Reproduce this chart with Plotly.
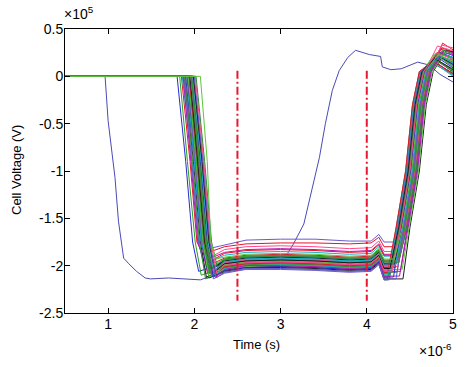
import plotly.graph_objects as go

# ---------------- data (time in 1e-6 s, voltage in 1e5 V) ----------------
x_ticks = [1, 2, 3, 4, 5]
x_tick_labels = ["1", "2", "3", "4", "5"]
y_ticks = [-2.5, -2.0, -1.5, -1.0, -0.5, 0.0, 0.5]
y_tick_labels = ["-2.5", "-2", "-1.5", "-1", "-0.5", "0", "0.5"]

# outlier cell (early drop, early recovery)
outlier_t = [0.5, 0.965, 1.00, 1.04, 1.08, 1.12, 1.18, 1.24, 1.33, 1.43, 1.49, 1.70, 1.90, 2.07, 2.22,
             2.35, 2.60, 2.90, 3.04, 3.15, 3.27, 3.37, 3.45, 3.52, 3.60, 3.68, 3.78, 3.87, 3.93, 4.03,
             4.16, 4.18, 4.28, 4.40, 4.59, 4.72, 4.85, 5.00]
outlier_v = [0.0, 0.0, -0.47, -0.78, -1.07, -1.53, -1.92, -1.98, -2.06, -2.13, -2.14, -2.13, -2.14, -2.15, -2.10,
             -2.02, -1.97, -1.96, -1.93, -1.77, -1.56, -1.18, -0.86, -0.50, -0.15, 0.06, 0.20, 0.275, 0.26, 0.23,
             0.21, 0.10, 0.07, 0.08, 0.15, 0.12, 0.02, -0.06]

# main group of cells: key times / voltages for each cell
drop_start = [1.80, 1.83, 1.85, 1.86, 1.87, 1.88, 1.88, 1.89, 1.89, 1.90,
              1.90, 1.91, 1.91, 1.91, 1.92, 1.92, 1.92, 1.93, 1.93, 1.93,
              1.94, 1.94, 1.94, 1.95, 1.95, 1.95, 1.96, 1.96, 1.96, 1.97,
              1.97, 1.97, 1.98, 1.98, 1.99, 1.99, 2.00, 2.01, 2.02, 2.07]
drop_mid = [1.90, 1.92, 1.95, 1.97, 1.96, 1.99, 1.97, 2.00, 1.98, 2.01,
            2.00, 2.02, 2.01, 2.00, 2.03, 2.02, 2.01, 2.04, 2.03, 2.02,
            2.05, 2.03, 2.04, 2.06, 2.05, 2.04, 2.07, 2.06, 2.05, 2.08,
            2.07, 2.06, 2.09, 2.08, 2.10, 2.09, 2.10, 2.11, 2.12, 2.15]
drop_low = [1.98, 2.01, 2.03, 2.05, 2.04, 2.07, 2.05, 2.08, 2.06, 2.09,
            2.08, 2.10, 2.09, 2.08, 2.11, 2.10, 2.09, 2.12, 2.11, 2.10,
            2.13, 2.11, 2.12, 2.14, 2.13, 2.12, 2.15, 2.14, 2.13, 2.16,
            2.15, 2.14, 2.17, 2.16, 2.18, 2.17, 2.18, 2.19, 2.20, 2.19]
drop_bottom_t = [2.05, 2.08, 2.10, 2.12, 2.11, 2.14, 2.12, 2.15, 2.13, 2.16,
                 2.15, 2.17, 2.16, 2.15, 2.18, 2.17, 2.16, 2.19, 2.18, 2.17,
                 2.20, 2.18, 2.19, 2.21, 2.20, 2.19, 2.22, 2.21, 2.20, 2.23,
                 2.22, 2.21, 2.24, 2.23, 2.25, 2.24, 2.25, 2.26, 2.27, 2.25]
drop_levels = [-0.9, -1.75]
drop_bottom_v = [-2.06, -2.10, -1.88, -2.04, -1.95, -2.12, -1.83, -2.08, -2.14, -2.02,
                 -2.05, -2.11, -2.00, -1.97, -2.08, -2.13, -2.04, -1.91, -2.09, -2.12,
                 -2.03, -2.07, -1.95, -2.11, -2.08, -2.04, -2.14, -2.06, -2.10, -2.07,
                 -2.12, -2.02, -2.09, -2.05, -2.12, -2.06, -2.13, -2.08, -2.03, -1.93]

plateau_times = [2.35, 2.6, 3.0, 3.4, 3.8, 4.05, 4.14, 4.2]
v_235 = [-1.98, -2.02, -1.80, -1.95, -1.86, -2.05, -1.78, -2.00, -2.07, -1.93,
         -1.97, -2.03, -1.92, -1.89, -1.99, -2.06, -1.96, -1.83, -2.01, -2.04,
         -1.94, -1.98, -1.87, -2.03, -2.00, -1.95, -2.08, -1.97, -2.02, -1.99,
         -2.05, -1.93, -2.01, -1.96, -2.04, -1.98, -2.07, -2.00, -1.94, -1.91]
v_260 = [-1.95, -1.98, -1.77, -1.92, -1.83, -2.01, -1.73, -1.97, -2.03, -1.90,
         -1.94, -2.00, -1.89, -1.86, -1.96, -2.02, -1.93, -1.80, -1.98, -2.01,
         -1.91, -1.95, -1.84, -2.00, -1.97, -1.92, -2.04, -1.94, -1.99, -1.96,
         -2.02, -1.90, -1.98, -1.93, -2.00, -1.95, -2.03, -1.97, -1.91, -1.88]
v_300 = [-1.94, -1.98, -1.76, -1.91, -1.82, -2.01, -1.72, -1.96, -2.03, -1.89,
         -1.93, -1.99, -1.88, -1.85, -1.95, -2.02, -1.92, -1.79, -1.97, -2.00,
         -1.90, -1.94, -1.83, -1.99, -1.96, -1.91, -2.04, -1.93, -1.98, -1.95,
         -2.01, -1.89, -1.97, -1.92, -2.00, -1.94, -2.03, -1.96, -1.90, -1.87]
v_340 = [-1.95, -1.99, -1.76, -1.92, -1.83, -2.02, -1.72, -1.97, -2.04, -1.90,
         -1.94, -2.00, -1.89, -1.86, -1.96, -2.03, -1.93, -1.80, -1.98, -2.01,
         -1.91, -1.95, -1.84, -2.00, -1.97, -1.92, -2.05, -1.94, -1.99, -1.96,
         -2.02, -1.90, -1.98, -1.93, -2.01, -1.95, -2.04, -1.97, -1.91, -1.88]
v_380 = [-1.97, -2.01, -1.77, -1.94, -1.85, -2.04, -1.74, -1.99, -2.06, -1.92,
         -1.96, -2.02, -1.91, -1.88, -1.98, -2.05, -1.95, -1.82, -2.00, -2.03,
         -1.93, -1.97, -1.86, -2.02, -1.99, -1.94, -2.07, -1.96, -2.01, -1.98,
         -2.04, -1.92, -2.00, -1.95, -2.03, -1.97, -2.06, -1.99, -1.93, -1.90]
v_405 = [-1.96, -2.00, -1.76, -1.93, -1.84, -2.03, -1.74, -1.98, -2.05, -1.91,
         -1.95, -2.01, -1.90, -1.87, -1.97, -2.04, -1.94, -1.81, -1.99, -2.02,
         -1.92, -1.96, -1.85, -2.01, -1.98, -1.93, -2.06, -1.95, -2.00, -1.97,
         -2.03, -1.91, -1.99, -1.94, -2.02, -1.96, -2.05, -1.98, -1.92, -1.89]
v_414 = [-1.89, -1.93, -1.70, -1.86, -1.77, -1.96, -1.67, -1.91, -1.98, -1.84,
         -1.88, -1.94, -1.83, -1.80, -1.90, -1.97, -1.87, -1.74, -1.92, -1.95,
         -1.85, -1.89, -1.78, -1.94, -1.91, -1.86, -1.99, -1.88, -1.93, -1.90,
         -1.96, -1.84, -1.92, -1.87, -1.95, -1.89, -1.98, -1.91, -1.85, -1.82]
v_420 = [-2.02, -2.08, -1.80, -1.98, -1.88, -2.12, -1.75, -2.05, -2.15, -1.95,
         -2.00, -2.10, -1.94, -1.90, -2.04, -2.14, -1.99, -1.85, -2.07, -2.11,
         -1.96, -2.03, -1.89, -2.09, -2.06, -1.98, -2.15, -2.01, -2.08, -2.04,
         -2.12, -1.95, -2.07, -2.00, -2.11, -2.03, -2.14, -2.06, -1.97, -1.93]

rise_levels = [-1.6, -1.0, -0.3, 0.05]
rise_start = [4.33, 4.27, 4.37, 4.31, 4.35, 4.25, 4.40, 4.30, 4.24, 4.34,
              4.32, 4.26, 4.36, 4.38, 4.28, 4.42, 4.33, 4.30, 4.35, 4.27,
              4.37, 4.29, 4.34, 4.25, 4.39, 4.32, 4.26, 4.36, 4.28, 4.41,
              4.31, 4.35, 4.24, 4.33, 4.38, 4.27, 4.34, 4.29, 4.37, 4.32]
rise_t1 = [4.42, 4.37, 4.46, 4.40, 4.44, 4.35, 4.48, 4.39, 4.34, 4.43,
           4.41, 4.36, 4.45, 4.47, 4.38, 4.50, 4.42, 4.40, 4.44, 4.37,
           4.46, 4.39, 4.43, 4.35, 4.48, 4.41, 4.36, 4.45, 4.38, 4.49,
           4.40, 4.44, 4.34, 4.42, 4.47, 4.37, 4.43, 4.39, 4.46, 4.41]
rise_t2 = [4.53, 4.48, 4.57, 4.51, 4.55, 4.46, 4.59, 4.50, 4.45, 4.54,
           4.52, 4.47, 4.56, 4.58, 4.49, 4.61, 4.53, 4.51, 4.55, 4.48,
           4.57, 4.50, 4.54, 4.46, 4.59, 4.52, 4.47, 4.56, 4.49, 4.60,
           4.51, 4.55, 4.45, 4.53, 4.58, 4.48, 4.54, 4.50, 4.57, 4.52]
rise_t3 = [4.61, 4.56, 4.65, 4.59, 4.63, 4.54, 4.67, 4.58, 4.53, 4.62,
           4.60, 4.55, 4.64, 4.66, 4.57, 4.69, 4.61, 4.59, 4.63, 4.56,
           4.65, 4.58, 4.62, 4.54, 4.67, 4.60, 4.55, 4.64, 4.57, 4.68,
           4.59, 4.63, 4.53, 4.61, 4.66, 4.56, 4.62, 4.58, 4.65, 4.60]
rise_t4 = [4.69, 4.64, 4.73, 4.67, 4.71, 4.62, 4.75, 4.66, 4.61, 4.70,
           4.68, 4.63, 4.72, 4.74, 4.65, 4.77, 4.69, 4.67, 4.71, 4.64,
           4.73, 4.66, 4.70, 4.62, 4.75, 4.68, 4.63, 4.72, 4.65, 4.76,
           4.67, 4.71, 4.61, 4.69, 4.74, 4.64, 4.70, 4.66, 4.73, 4.68]
peak_t = [4.84, 4.79, 4.88, 4.82, 4.86, 4.77, 4.90, 4.81, 4.76, 4.85,
          4.83, 4.78, 4.87, 4.89, 4.80, 4.92, 4.84, 4.82, 4.86, 4.79,
          4.88, 4.81, 4.85, 4.77, 4.90, 4.83, 4.78, 4.87, 4.80, 4.91,
          4.82, 4.86, 4.76, 4.84, 4.89, 4.79, 4.85, 4.81, 4.88, 4.83]
peak_v = [0.22, 0.18, 0.35, 0.25, 0.20, 0.16, 0.28, 0.24, 0.14, 0.21,
          0.26, 0.19, 0.30, 0.23, 0.17, 0.27, 0.22, 0.32, 0.20, 0.24,
          0.26, 0.18, 0.29, 0.15, 0.25, 0.21, 0.17, 0.33, 0.23, 0.26,
          0.20, 0.24, 0.16, 0.22, 0.27, 0.19, 0.21, 0.25, 0.28, 0.23]
end_v = [0.15, 0.08, 0.28, 0.18, 0.12, 0.03, 0.25, 0.14, 0.02, 0.16,
         0.20, 0.06, 0.26, 0.20, 0.05, 0.26, 0.12, 0.27, 0.15, 0.10,
         0.22, 0.04, 0.24, 0.00, 0.23, 0.13, 0.01, 0.30, 0.11, 0.25,
         0.09, 0.19, 0.03, 0.14, 0.25, 0.07, 0.17, 0.18, 0.24, 0.16]

window_times = [2.5, 4.0]
window_span = [0.06, -2.37]

# ---------------- styling ----------------
palette = ["#2a2ad0", "#24a024", "#e8122e", "#12b2c4", "#b416b4",
           "#1c1c1c", "#6a5acd", "#ff4a8a", "#3a8a3a", "#5cc83c"]
FONT = "Liberation Sans, Arial, Helvetica, sans-serif"
W, H = 474, 367
ML, MR, MT, MB = 65, 21, 29, 54
PW, PH = W - ML - MR, H - MT - MB

fig = go.Figure()

fig.add_trace(go.Scatter(x=outlier_t, y=outlier_v, mode="lines",
                         line=dict(color="#4a4ab8", width=1), showlegend=False))

t0_v = 0.0
for i in range(len(drop_start)):
    xs = [0.5, drop_start[i], drop_mid[i], drop_low[i], drop_bottom_t[i]] + plateau_times + \
         [rise_start[i], rise_t1[i], rise_t2[i], rise_t3[i], rise_t4[i], peak_t[i], 5.0]
    ys = [t0_v, t0_v, drop_levels[0], drop_levels[1], drop_bottom_v[i],
          v_235[i], v_260[i], v_300[i], v_340[i], v_380[i], v_405[i], v_414[i], v_420[i],
          v_420[i], rise_levels[0], rise_levels[1], rise_levels[2], rise_levels[3],
          peak_v[i], end_v[i]]
    fig.add_trace(go.Scatter(x=xs, y=ys, mode="lines",
                             line=dict(color=palette[i % len(palette)], width=1),
                             showlegend=False))

for t in window_times:
    fig.add_trace(go.Scatter(x=[t, t], y=window_span, mode="lines",
                             line=dict(color="#e8192c", width=2, dash="8px,3px,2px,3px"),
                             showlegend=False))

axis_common = dict(showline=True, linecolor="#000000", linewidth=1, mirror="ticks",
                   ticks="inside", ticklen=5, tickwidth=1, tickcolor="#000000",
                   showgrid=False, zeroline=False, automargin=False,
                   tickfont=dict(family=FONT, size=14, color="#000000"))

fig.update_layout(
    width=W, height=H,
    margin=dict(l=ML, r=MR, t=MT, b=MB, pad=0, autoexpand=False),
    paper_bgcolor="#ffffff", plot_bgcolor="#ffffff",
    xaxis=dict(range=[0.5, 5], tickvals=x_ticks, ticktext=x_tick_labels,
               ticklabelstandoff=-2, **axis_common),
    yaxis=dict(range=[-2.5, 0.5], tickvals=y_ticks, ticktext=y_tick_labels,
               ticklabelstandoff=-2, **axis_common),
    showlegend=False,
)

def px2paper_x(px):
    return (px - ML) / PW

def px2paper_y(py):
    return (H - MB - py) / PH

fig.add_annotation(text="Time (s)", xref="paper", yref="paper",
                   x=px2paper_x(256), y=px2paper_y(344), showarrow=False,
                   xanchor="center", yanchor="middle",
                   font=dict(family=FONT, size=13, color="#000000"))
fig.add_annotation(text="Cell Voltage (V)", xref="paper", yref="paper",
                   x=px2paper_x(16), y=px2paper_y(170), showarrow=False, textangle=-90,
                   xanchor="center", yanchor="middle",
                   font=dict(family=FONT, size=13, color="#000000"))
fig.add_annotation(text="×10<sup>-6</sup>", xref="paper", yref="paper",
                   x=px2paper_x(454), y=px2paper_y(350), showarrow=False,
                   xanchor="right", yanchor="middle",
                   font=dict(family=FONT, size=14, color="#000000"))
fig.add_annotation(text="×10<sup>5</sup>", xref="paper", yref="paper",
                   x=px2paper_x(62), y=px2paper_y(13), showarrow=False,
                   xanchor="left", yanchor="middle",
                   font=dict(family=FONT, size=14, color="#000000"))

fig.write_html("out.html",
               config={"displayModeBar": False},
               post_script="document.body.style.margin='0';document.body.style.padding='0';")
